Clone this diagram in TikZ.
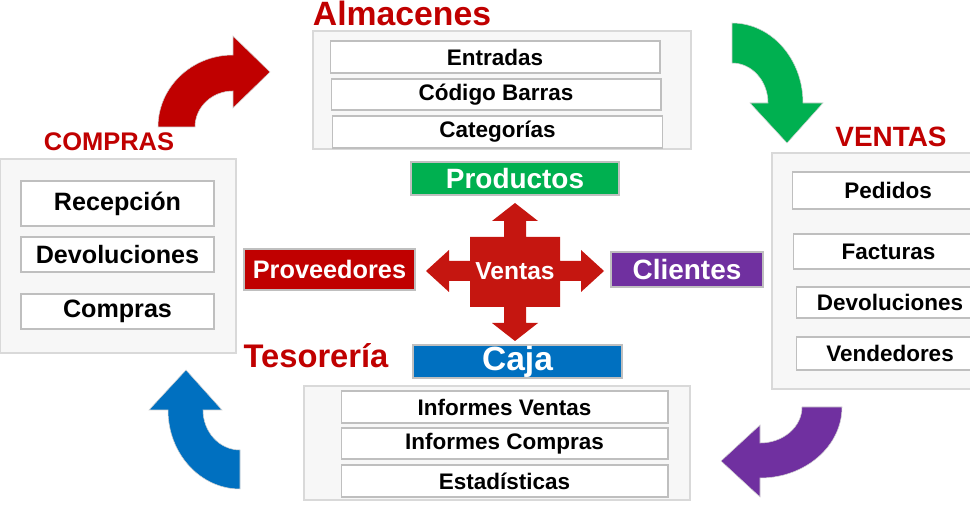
\documentclass[tikz,border=0pt]{standalone}
\usepackage{fontspec}
\setmainfont{Liberation Sans}
\usepackage{tikz}

\definecolor{titlered}{RGB}{192,0,0}
\definecolor{crossred}{RGB}{197,22,16}
\definecolor{prodgreen}{RGB}{0,176,80}
\definecolor{clientpurple}{RGB}{112,48,160}
\definecolor{cajablue}{RGB}{0,112,192}
\definecolor{panelgray}{RGB}{247,247,247}
\definecolor{panelline}{RGB}{217,217,217}
\definecolor{itemline}{RGB}{191,191,191}

\newcommand{\fs}[1]{\fontsize{#1}{#1}\selectfont\bfseries}

\tikzset{
    panel/.style={fill=panelgray, draw=panelline, line width=0.6pt},
    item/.style={draw=itemline, fill=white, line width=0.6pt, inner sep=0pt, font=\fs{12.8}},
    bigitem/.style={item, font=\fs{14.3}},
    colbox/.style={draw=itemline, line width=0.6pt, inner sep=0pt, text=white},
    title/.style={text=titlered, inner sep=0pt, anchor=base},
    curvearrow/.style={draw=gray!35, line width=0.3pt}
}

\begin{document}
\begin{tikzpicture}[x=0.02cm, y=-0.02cm]
\useasboundingbox (0, 0) rectangle (970, 509);

% Draw panels.
\draw[panel] (313, 31) rectangle (691, 149);
\draw[panel] (0, 159) rectangle (236, 353);
\draw[panel] (772, 153) rectangle (980, 389);
\draw[panel] (304, 386) rectangle (690, 500);

% Draw titles.
\node[title, font=\fs{19.2}] (almacenes) at (402, 26) {Almacenes};
\node[title, font=\fs{14.5}] (compras) at (109, 151) {COMPRAS};
\node[title, font=\fs{15.9}] (ventas) at (891, 147) {VENTAS};
\node[title, font=\fs{18.6}] (tesoreria) at (316, 368) {Tesorería};

% Draw almacenes items.
\foreach \name/\x/\y/\h/\txt in {entradas/495/57/0.64/Entradas,
    codigo/496/94.5/0.62/Código Barras, categorias/497.5/132/0.64/Categorías}
    \node[item, minimum width=6.6cm, minimum height=\h cm] (\name) at (\x, \y) {\txt};

% Draw compras items.
\foreach \name/\y/\h/\txt in {recepcion/203.5/0.9/Recepción,
    devcompras/254.5/0.7/Devoluciones, listacompras/311.5/0.7/Compras}
    \node[bigitem, minimum width=3.86cm, minimum height=\h cm] (\name) at (117.5, \y) {\txt};

% Draw ventas items.
\foreach \name/\x/\y/\w/\h/\txt in {pedidos/888/190.5/3.84/0.74/Pedidos,
    facturas/888.5/251.5/3.82/0.7/Facturas,
    devventas/890/302.5/3.76/0.62/Devoluciones,
    vendedores/890/353.5/3.76/0.66/Vendedores}
    \node[item, minimum width=\w cm, minimum height=\h cm] (\name) at (\x, \y) {\txt};

% Draw tesoreria items.
\foreach \name/\y/\h/\txt in {infventas/407/0.64/Informes Ventas,
    infcompras/443.5/0.62/Informes Compras, estadisticas/481/0.64/Estadísticas}
    \node[item, minimum width=6.54cm, minimum height=\h cm] (\name) at (504.5, \y) {\txt};

% Draw central cross.
\fill[crossred] (504, 237) -- (504, 221) -- (492, 221) -- (515, 203) -- (538, 221)
    -- (526, 221) -- (526, 237) -- (560, 237) -- (560, 261) -- (581, 261)
    -- (581, 250) -- (604, 271) -- (581, 292) -- (581, 281) -- (560, 281)
    -- (560, 307) -- (526, 307) -- (526, 323) -- (538, 323) -- (515, 341)
    -- (492, 323) -- (504, 323) -- (504, 307) -- (470, 307) -- (470, 281)
    -- (449, 281) -- (449, 292) -- (426, 271) -- (449, 250) -- (449, 261)
    -- (470, 261) -- (470, 237) -- cycle;
\node[text=white, font=\fs{14}] (centro) at (515, 271) {Ventas};

% Draw coloured boxes.
\node[colbox, fill=prodgreen, minimum width=4.16cm, minimum height=0.66cm,
    font=\fs{15.9}] (productos) at (515, 178.5) {Productos};
\node[colbox, fill=titlered, minimum width=3.42cm, minimum height=0.82cm,
    font=\fs{14.4}] (proveedores) at (329.5, 269.5) {Proveedores};
\node[colbox, fill=clientpurple, minimum width=3.04cm, minimum height=0.7cm,
    font=\fs{15.9}] (clientes) at (687, 269.5) {Clientes};
\node[colbox, fill=cajablue, minimum width=4.18cm, minimum height=0.66cm,
    font=\fs{19.1}] (caja) at (517.5, 361.5) {Caja};

% Draw curved arrows.
\filldraw[curvearrow, fill=titlered] (158, 127)
    arc[start angle=180, end angle=270, x radius=75, y radius=72]
    -- (233, 36) -- (270, 72) -- (233, 108) -- (233, 91)
    arc[start angle=270, end angle=180, x radius=38, y radius=36] -- cycle;
\filldraw[curvearrow, fill=prodgreen] (732, 23)
    arc[start angle=270, end angle=360, x radius=71, y radius=80]
    -- (823, 103) -- (787, 143) -- (750, 103) -- (768, 103)
    arc[start angle=360, end angle=270, x radius=36, y radius=40] -- cycle;
\filldraw[curvearrow, fill=clientpurple] (842, 407)
    arc[start angle=0, end angle=90, x radius=82, y radius=71]
    -- (760, 497) -- (721, 461) -- (760, 425) -- (760, 443)
    arc[start angle=90, end angle=0, x radius=42, y radius=36] -- cycle;
\filldraw[curvearrow, fill=cajablue] (240, 489)
    arc[start angle=90, end angle=180, x radius=72, y radius=79]
    -- (149, 410) -- (186, 370) -- (222, 410) -- (203, 410)
    arc[start angle=180, end angle=90, x radius=37, y radius=40] -- cycle;

\end{tikzpicture}
\end{document}
